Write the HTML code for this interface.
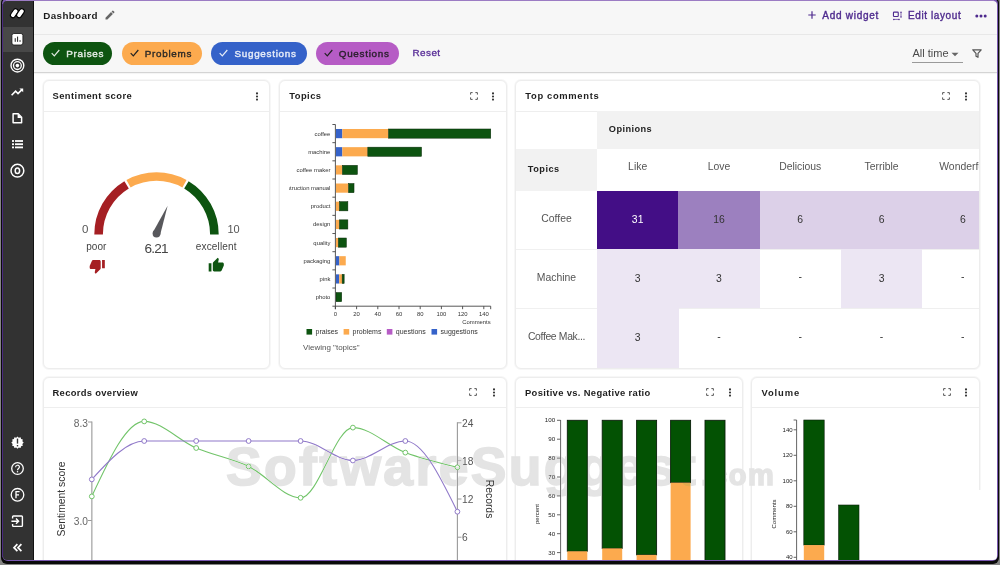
<!DOCTYPE html>
<html><head><meta charset="utf-8">
<style>
*{box-sizing:border-box;margin:0;padding:0}
html,body{width:1000px;height:565px;overflow:hidden;background:#858585;font-family:"Liberation Sans",sans-serif;color:#222}
.abs{position:absolute}
#blk{position:absolute;left:1px;top:-3px;width:998px;height:567px;background:#0a0a0a;border-radius:6px}
#pur{position:absolute;left:2px;top:-2px;width:996px;height:563px;background:#7a58b2;border-radius:6px}
#lpur{position:absolute;left:2px;top:4px;width:1px;height:553px;background:#4a2a80}
#app{position:absolute;left:0;top:0;width:1000px;height:565px;background:#fff;clip-path:inset(1px 3px 5px 3px round 4px)}
#topline{position:absolute;left:6px;top:0;width:988px;height:1px;background:#9c7cc4}
#side{position:absolute;left:3px;top:0;width:31px;height:565px;background:#323232;border-right:1px solid #111}
#side .act{position:absolute;left:0;top:27px;width:30px;height:25px;background:#484848}
.hdr{position:absolute;left:34px;top:0;width:963px;height:35px;border-bottom:1px solid #e8e8e8;background:#f7f7f7}
.fbar{position:absolute;left:34px;top:35px;width:963px;height:38px;border-bottom:1px solid #d4d4d4;background:#f7f7f7;box-shadow:0 1px 1px rgba(0,0,0,0.04)}
.chip{position:absolute;top:42px;height:23px;border-radius:12px;font-size:9.9px;font-weight:normal;-webkit-text-stroke:0.4px currentColor;line-height:23px;white-space:nowrap}
.chip span{position:absolute;top:-0.4px;letter-spacing:0.7px}
.hl{font-weight:normal;-webkit-text-stroke:0.35px currentColor;color:#4e2a8e;white-space:nowrap}
.w{position:absolute;background:#fff;border:1px solid #ededed;border-radius:6px;overflow:hidden;box-shadow:0 0 0 1px #f7f7f7}
.wh{position:absolute;left:0;top:0;right:0;height:30px;border-bottom:1px solid #eeeeee}
.wt{position:absolute;left:8px;top:9px;font-size:9.4px;font-weight:bold;color:#1e1e1e;white-space:nowrap}
.t{position:absolute;white-space:nowrap}
.tc{position:absolute;text-align:center;white-space:nowrap}
</style></head>
<body>
<div id="blk"></div><div id="pur"></div><div id="lpur"></div>
<div id="app">
<div id="side"><div class="act"></div></div>
<svg class="abs" style="left:0;top:0" width="33" height="565" viewBox="0 0 33 565"><rect x="9.40" y="10.7" width="9.8" height="5" rx="2.5" transform="rotate(-55 14.30 13.2)" fill="#fff" stroke="#000" stroke-width="1.1"/><rect x="15.60" y="10.7" width="9.8" height="5" rx="2.5" transform="rotate(-55 20.50 13.2)" fill="#fff" stroke="#000" stroke-width="1.1"/><rect x="11.9" y="33.5" width="11" height="11.5" rx="2" fill="#fff" stroke="#111" stroke-width="0.8"/><rect x="14.7" y="38.2" width="1.1" height="3.6" fill="#333"/><rect x="17" y="36.6" width="1.1" height="5.2" fill="#333"/><rect x="19.5" y="40.2" width="1.1" height="1.6" fill="#333"/><circle cx="17.4" cy="65.6" r="6.4" stroke="#fff" stroke-width="1.4" fill="none"/><circle cx="17.4" cy="65.6" r="3.9" stroke="#fff" stroke-width="1.3" fill="none"/><circle cx="17.4" cy="65.6" r="1.8" fill="#fff"/><path d="M11.6 95.2L15.6 91.2L18 93.6L22 89.6" stroke="#fff" stroke-width="1.6" fill="none"/><path d="M19.4 88.4H23.2V92.2z" fill="#fff"/><path d="M13.1 113.8H18.2L21.6 117.3V122.8H13.1Z" stroke="#fff" stroke-width="1.5" fill="none" stroke-linejoin="round"/><path d="M17.6 113.8V117.9H21.6Z" fill="#fff"/><rect x="12" y="140.1" width="2" height="1.8" fill="#fff"/><rect x="15" y="140.1" width="8" height="1.8" fill="#fff"/><rect x="12" y="143.3" width="2" height="1.8" fill="#fff"/><rect x="15" y="143.3" width="8" height="1.8" fill="#fff"/><rect x="12" y="146.5" width="2" height="1.8" fill="#fff"/><rect x="15" y="146.5" width="8" height="1.8" fill="#fff"/><circle cx="17.4" cy="170.7" r="6.4" stroke="#fff" stroke-width="1.5" fill="none"/><ellipse cx="17.4" cy="170.7" rx="2.2" ry="2.8" stroke="#fff" stroke-width="1.5" fill="none"/><polygon points="23.70,442.60 22.33,443.89 22.87,445.70 21.04,446.14 20.60,447.97 18.79,447.43 17.50,448.80 16.21,447.43 14.40,447.97 13.96,446.14 12.13,445.70 12.67,443.89 11.30,442.60 12.67,441.31 12.13,439.50 13.96,439.06 14.40,437.23 16.21,437.77 17.50,436.40 18.79,437.77 20.60,437.23 21.04,439.06 22.87,439.50 22.33,441.31" fill="#fff"/><rect x="16.8" y="438.6" width="1.4" height="5" fill="#333"/><rect x="16.8" y="445" width="1.4" height="1.4" fill="#333"/><circle cx="17.5" cy="468.5" r="5.8" stroke="#fff" stroke-width="1.3" fill="none"/><path d="M15.6 467.2C15.6 464.6 19.4 464.6 19.4 467C19.4 468.4 17.5 468.6 17.5 470.2" stroke="#fff" stroke-width="1.2" fill="none"/><circle cx="17.5" cy="471.8" r="0.75" fill="#fff"/><circle cx="17.5" cy="494.8" r="6.3" stroke="#fff" stroke-width="1.3" fill="none"/><path d="M16 498.2V491.6H19.6M16 494.8H19" stroke="#fff" stroke-width="1.3" fill="none"/><path d="M12.6 518.5V516.8Q12.6 516 13.4 516H21.6Q22.4 516 22.4 516.8V525.6Q22.4 526.4 21.6 526.4H13.4Q12.6 526.4 12.6 525.6V524" stroke="#fff" stroke-width="1.4" fill="none"/><path d="M11.4 521.2H18.4M16 518.6L18.6 521.2L16 523.8" stroke="#fff" stroke-width="1.4" fill="none"/><path d="M17.4 544.2L14 547.7L17.4 551.2M21.4 544.2L18 547.7L21.4 551.2" stroke="#fff" stroke-width="1.7" fill="none"/></svg>
<div class="hdr"></div>
<div class="t" style="left:43.3px;top:9.8px;font-size:9.8px;font-weight:bold;letter-spacing:0.37px;color:#1c1c1c">Dashboard</div>
<svg class="abs" style="left:103.5px;top:9.3px" width="12" height="12" viewBox="0 0 24 24"><path fill="#666" d="M3 17.25V21h3.75L17.81 9.94l-3.75-3.75L3 17.25zM20.71 7.04a1 1 0 0 0 0-1.41l-2.34-2.34a1 1 0 0 0-1.41 0l-1.83 1.83 3.75 3.75 1.83-1.83z"/></svg>
<svg class="abs" style="left:807.5px;top:11px" width="8" height="8" viewBox="0 0 8 8"><path d="M4 0.3v7.4M0.3 4h7.4" stroke="#4e2a8e" stroke-width="1.2" fill="none"/></svg>
<div class="t hl" style="left:822.3px;top:9.6px;font-size:10px;letter-spacing:0.72px">Add widget</div>
<svg class="abs" style="left:891.5px;top:9.5px" width="11" height="11" viewBox="0 0 11 11"><rect x="1.45" y="2.15" width="4.8" height="4.3" rx="0.7" stroke="#4e2a8e" stroke-width="1.1" fill="none"/><path d="M1.6 9.4H7.2M9 2.2V6.9" stroke="#4e2a8e" stroke-width="0.9" stroke-opacity="0.75" fill="none"/><circle cx="1.8" cy="9.4" r="0.75" fill="#4e2a8e"/><circle cx="7" cy="9.4" r="0.75" fill="#4e2a8e"/><circle cx="9" cy="2.2" r="0.75" fill="#4e2a8e"/><circle cx="9" cy="6.9" r="0.75" fill="#4e2a8e"/></svg>
<div class="t hl" style="left:908px;top:9.6px;font-size:10px;letter-spacing:0.6px">Edit layout</div>
<svg class="abs" style="left:975px;top:13.5px" width="12" height="4" viewBox="0 0 12 4"><circle cx="1.8" cy="2" r="1.5" fill="#4e2a8e"/><circle cx="6" cy="2" r="1.5" fill="#4e2a8e"/><circle cx="10.2" cy="2" r="1.5" fill="#4e2a8e"/></svg>
<div class="fbar"></div>
<div class="chip" style="left:43px;width:69px;background:#0d5410;color:#e3ebe3"><svg class="abs" style="left:8.3px;top:7px" width="9" height="8" viewBox="0 0 9 8"><path d="M0.7 4.2l2.6 2.6L8.3 1" stroke="#e3ebe3" stroke-width="1.2" fill="none"/></svg><span style="left:23.3px">Praises</span></div>
<div class="chip" style="left:122px;width:80px;background:#fcaa4e;color:#2e2a26"><svg class="abs" style="left:8.3px;top:7px" width="9" height="8" viewBox="0 0 9 8"><path d="M0.7 4.2l2.6 2.6L8.3 1" stroke="#222" stroke-width="1.2" fill="none"/></svg><span style="left:22.8px">Problems</span></div>
<div class="chip" style="left:210.5px;width:96px;background:#3562c9;color:#e6ecf8"><svg class="abs" style="left:8.3px;top:7px" width="9" height="8" viewBox="0 0 9 8"><path d="M0.7 4.2l2.6 2.6L8.3 1" stroke="#e6ecf8" stroke-width="1.2" fill="none"/></svg><span style="left:24px">Suggestions</span></div>
<div class="chip" style="left:315.5px;width:83px;background:#b65cc5;color:#2a1f2c"><svg class="abs" style="left:8.3px;top:7px" width="9" height="8" viewBox="0 0 9 8"><path d="M0.7 4.2l2.6 2.6L8.3 1" stroke="#222" stroke-width="1.2" fill="none"/></svg><span style="left:23.3px">Questions</span></div>
<div class="t hl" style="left:412.5px;top:47.1px;font-size:9.9px;letter-spacing:0.45px;color:#5a2f98">Reset</div>
<div class="t" style="left:912.5px;top:46.5px;font-size:11px;color:#4a4a4a">All time</div>
<svg class="abs" style="left:951px;top:51.5px" width="8" height="5" viewBox="0 0 8 5"><path d="M0.5 0.8h7L4 4.3z" fill="#666"/></svg>
<div class="abs" style="left:912px;top:62px;width:51px;height:1px;background:#9a9a9a"></div>
<svg class="abs" style="left:972px;top:49px" width="10" height="9" viewBox="0 0 10 9"><path d="M0.8 0.8h8.4L6 4.3V8.3L4 7.3V4.3z" stroke="#555" stroke-width="1.2" fill="none" stroke-linejoin="round"/></svg>
<div class="w" style="left:43px;top:80px;width:227px;height:289px"><div class="wh" style="height:31px"></div><div class="wt" style="top:9.3px;left:8.5px;letter-spacing:0.45px">Sentiment score</div></div>
<div class="w" style="left:279px;top:80px;width:228px;height:289px"><div class="wh" style="height:31px"></div><div class="wt" style="top:9.3px;left:9.3px;letter-spacing:0.44px">Topics</div></div>
<div class="w" style="left:515px;top:80px;width:465px;height:289px"><div class="wh" style="height:31px"></div><div class="wt" style="top:9.3px;left:9.3px;letter-spacing:0.67px">Top comments</div></div>
<div class="w" style="left:43px;top:377px;width:464px;height:200px"><div class="wh" style="height:30px"></div><div class="wt" style="top:8.6px;left:8.5px;letter-spacing:0.33px">Records overview</div></div>
<div class="w" style="left:515px;top:377px;width:228px;height:200px"><div class="wh" style="height:30px"></div><div class="wt" style="top:8.6px;left:9.0px;letter-spacing:0.35px">Positive vs. Negative ratio</div></div>
<div class="w" style="left:751px;top:377px;width:229px;height:200px"><div class="wh" style="height:30px"></div><div class="wt" style="top:8.6px;left:9.5px;letter-spacing:0.90px">Volume</div></div>
<svg class="abs" style="left:255.2px;top:90.6px" width="4" height="11" viewBox="0 0 4 11"><circle cx="2" cy="2.4" r="1.05" fill="#333"/><circle cx="2" cy="5.5" r="1.05" fill="#333"/><circle cx="2" cy="8.6" r="1.05" fill="#333"/></svg><svg class="abs" style="left:469.5px;top:91.9px" width="8" height="8" viewBox="0 0 8 8"><path d="M0.6 2.6V0.6H2.6M5.4 0.6H7.4V2.6M7.4 5.4V7.4H5.4M2.6 7.4H0.6V5.4" stroke="#555" stroke-width="1" fill="none"/></svg><svg class="abs" style="left:491.4px;top:90.6px" width="4" height="11" viewBox="0 0 4 11"><circle cx="2" cy="2.4" r="1.05" fill="#333"/><circle cx="2" cy="5.5" r="1.05" fill="#333"/><circle cx="2" cy="8.6" r="1.05" fill="#333"/></svg><svg class="abs" style="left:942.0px;top:91.9px" width="8" height="8" viewBox="0 0 8 8"><path d="M0.6 2.6V0.6H2.6M5.4 0.6H7.4V2.6M7.4 5.4V7.4H5.4M2.6 7.4H0.6V5.4" stroke="#555" stroke-width="1" fill="none"/></svg><svg class="abs" style="left:963.6px;top:90.6px" width="4" height="11" viewBox="0 0 4 11"><circle cx="2" cy="2.4" r="1.05" fill="#333"/><circle cx="2" cy="5.5" r="1.05" fill="#333"/><circle cx="2" cy="8.6" r="1.05" fill="#333"/></svg><svg class="abs" style="left:469.3px;top:388.4px" width="8" height="8" viewBox="0 0 8 8"><path d="M0.6 2.6V0.6H2.6M5.4 0.6H7.4V2.6M7.4 5.4V7.4H5.4M2.6 7.4H0.6V5.4" stroke="#555" stroke-width="1" fill="none"/></svg><svg class="abs" style="left:491.6px;top:387.1px" width="4" height="11" viewBox="0 0 4 11"><circle cx="2" cy="2.4" r="1.05" fill="#333"/><circle cx="2" cy="5.5" r="1.05" fill="#333"/><circle cx="2" cy="8.6" r="1.05" fill="#333"/></svg><svg class="abs" style="left:705.8px;top:388.4px" width="8" height="8" viewBox="0 0 8 8"><path d="M0.6 2.6V0.6H2.6M5.4 0.6H7.4V2.6M7.4 5.4V7.4H5.4M2.6 7.4H0.6V5.4" stroke="#555" stroke-width="1" fill="none"/></svg><svg class="abs" style="left:727.8px;top:387.1px" width="4" height="11" viewBox="0 0 4 11"><circle cx="2" cy="2.4" r="1.05" fill="#333"/><circle cx="2" cy="5.5" r="1.05" fill="#333"/><circle cx="2" cy="8.6" r="1.05" fill="#333"/></svg><svg class="abs" style="left:942.5px;top:388.4px" width="8" height="8" viewBox="0 0 8 8"><path d="M0.6 2.6V0.6H2.6M5.4 0.6H7.4V2.6M7.4 5.4V7.4H5.4M2.6 7.4H0.6V5.4" stroke="#555" stroke-width="1" fill="none"/></svg><svg class="abs" style="left:964.0px;top:387.1px" width="4" height="11" viewBox="0 0 4 11"><circle cx="2" cy="2.4" r="1.05" fill="#333"/><circle cx="2" cy="5.5" r="1.05" fill="#333"/><circle cx="2" cy="8.6" r="1.05" fill="#333"/></svg><svg class="abs" style="left:0;top:0" width="1000" height="565" viewBox="0 0 1000 565"><path d="M98.60 234.40A57.90 57.90 0 0 1 126.59 184.82" stroke="#a51f23" stroke-width="8.6" fill="none"/><path d="M128.52 183.71A57.90 57.90 0 0 1 184.48 183.71" stroke="#fcaa4e" stroke-width="8.6" fill="none"/><path d="M186.41 184.82A57.90 57.90 0 0 1 214.40 234.40" stroke="#0d5410" stroke-width="8.6" fill="none"/><circle cx="156.50" cy="233.60" r="3.90" fill="#58585c"/><path d="M152.88 232.15L167.63 205.74L160.12 235.05z" fill="#58585c"/></svg>
<div class="t" style="left:82px;top:222.5px;font-size:11.5px;color:#555">0</div>
<div class="t" style="left:227.5px;top:223px;font-size:11px;color:#555">10</div>
<div class="t" style="left:86.3px;top:241px;font-size:10px;color:#444">poor</div>
<div class="t" style="left:144.5px;top:241px;font-size:13.6px;letter-spacing:-0.8px;color:#444">6.21</div>
<div class="t" style="left:195.8px;top:240.8px;font-size:10px;letter-spacing:0.15px;color:#444">excellent</div>
<svg class="abs" style="left:88.5px;top:258px" width="16.5" height="16.5" viewBox="0 0 24 24"><path fill="#a51f23" d="M15 3H6c-.83 0-1.54.5-1.84 1.22l-3.02 7.05c-.09.23-.14.47-.14.73v2c0 1.1.9 2 2 2h6.31l-.95 4.57-.03.32c0 .41.17.79.44 1.06L9.830 23l6.59-6.59c.36-.36.58-.86.58-1.41V5c0-1.1-.9-2-2-2zm4 0v12h4V3h-4z"/></svg>
<svg class="abs" style="left:207.5px;top:257px" width="16.5" height="16.5" viewBox="0 0 24 24"><path fill="#0d5410" d="M1 21h4V9H1v12zm22-11c0-1.1-.9-2-2-2h-6.31l.95-4.57.03-.32c0-.41-.17-.79-.44-1.06L14.17 1 7.59 7.59C7.22 7.95 7 8.45 7 9v10c0 1.1.9 2 2 2h9c.83 0 1.54-.5 1.84-1.22l3.02-7.05c.09-.23.14-.47.14-.73v-2z"/></svg>
<svg class="abs" style="left:289px;top:0" width="215" height="565" viewBox="289 0 215 565" font-family="Liberation Sans"><rect x="336.00" y="128.99" width="6.36" height="9.2"  fill="#3562c9"/><rect x="342.36" y="128.99" width="46.11" height="9.2"  fill="#fcaa4e"/><rect x="388.47" y="128.99" width="102.29" height="9.2"  fill="#0d5410" stroke="#0a2a0a" stroke-width="0.5"/><text x="330.4" y="135.59" font-size="5.9" fill="#333" text-anchor="end">coffee</text><rect x="336.00" y="147.16" width="6.36" height="9.2"  fill="#3562c9"/><rect x="342.36" y="147.16" width="25.44" height="9.2"  fill="#fcaa4e"/><rect x="367.80" y="147.16" width="53.74" height="9.2"  fill="#0d5410" stroke="#0a2a0a" stroke-width="0.5"/><text x="330.4" y="153.75" font-size="5.9" fill="#333" text-anchor="end">machine</text><rect x="336.00" y="165.33" width="6.36" height="9.2"  fill="#fcaa4e"/><rect x="342.36" y="165.33" width="15.05" height="9.2"  fill="#0d5410" stroke="#0a2a0a" stroke-width="0.5"/><text x="330.4" y="171.93" font-size="5.9" fill="#333" text-anchor="end">coffee maker</text><rect x="336.00" y="183.50" width="12.51" height="9.2"  fill="#fcaa4e"/><rect x="348.51" y="183.50" width="5.51" height="9.2"  fill="#0d5410" stroke="#0a2a0a" stroke-width="0.5"/><text x="330.4" y="190.09" font-size="5.9" fill="#333" text-anchor="end">instruction manual</text><rect x="336.00" y="201.66" width="3.39" height="9.2"  fill="#fcaa4e"/><rect x="339.39" y="201.66" width="8.48" height="9.2"  fill="#0d5410" stroke="#0a2a0a" stroke-width="0.5"/><text x="330.4" y="208.26" font-size="5.9" fill="#333" text-anchor="end">product</text><rect x="336.00" y="219.84" width="3.39" height="9.2"  fill="#fcaa4e"/><rect x="339.39" y="219.84" width="8.48" height="9.2"  fill="#0d5410" stroke="#0a2a0a" stroke-width="0.5"/><text x="330.4" y="226.44" font-size="5.9" fill="#333" text-anchor="end">design</text><rect x="336.00" y="238.00" width="2.33" height="9.2"  fill="#fcaa4e"/><rect x="338.33" y="238.00" width="8.06" height="9.2"  fill="#0d5410" stroke="#0a2a0a" stroke-width="0.5"/><text x="330.4" y="244.60" font-size="5.9" fill="#333" text-anchor="end">quality</text><rect x="336.00" y="256.17" width="3.39" height="9.2"  fill="#3562c9"/><rect x="339.39" y="256.17" width="6.36" height="9.2"  fill="#fcaa4e"/><text x="330.4" y="262.77" font-size="5.9" fill="#333" text-anchor="end">packaging</text><rect x="336.00" y="274.34" width="3.18" height="9.2"  fill="#3562c9"/><rect x="339.18" y="274.34" width="2.97" height="9.2"  fill="#fcaa4e"/><rect x="342.15" y="274.34" width="2.01" height="9.2"  fill="#0d5410" stroke="#0a2a0a" stroke-width="0.5"/><text x="330.4" y="280.94" font-size="5.9" fill="#333" text-anchor="end">pink</text><rect x="336.00" y="292.51" width="5.72" height="9.2"  fill="#0d5410" stroke="#0a2a0a" stroke-width="0.5"/><text x="330.4" y="299.12" font-size="5.9" fill="#333" text-anchor="end">photo</text><path d="M332.4 124.50H335.40V306.20H332.4" stroke="#444" stroke-width="0.9" fill="none"/><path d="M332.4 142.67H335.40" stroke="#444" stroke-width="0.9"/><path d="M332.4 160.84H335.40" stroke="#444" stroke-width="0.9"/><path d="M332.4 179.01H335.40" stroke="#444" stroke-width="0.9"/><path d="M332.4 197.18H335.40" stroke="#444" stroke-width="0.9"/><path d="M332.4 215.35H335.40" stroke="#444" stroke-width="0.9"/><path d="M332.4 233.52H335.40" stroke="#444" stroke-width="0.9"/><path d="M332.4 251.69H335.40" stroke="#444" stroke-width="0.9"/><path d="M332.4 269.86H335.40" stroke="#444" stroke-width="0.9"/><path d="M332.4 288.03H335.40" stroke="#444" stroke-width="0.9"/><path d="M335.40 309.20V306.20H490.69V309.20" stroke="#444" stroke-width="0.9" fill="none"/><path d="M335.40 306.20V309.20" stroke="#444" stroke-width="0.9"/><text x="335.40" y="316.20" font-size="5.9" fill="#333" text-anchor="middle">0</text><path d="M356.60 306.20V309.20" stroke="#444" stroke-width="0.9"/><text x="356.60" y="316.20" font-size="5.9" fill="#333" text-anchor="middle">20</text><path d="M377.80 306.20V309.20" stroke="#444" stroke-width="0.9"/><text x="377.80" y="316.20" font-size="5.9" fill="#333" text-anchor="middle">40</text><path d="M399.00 306.20V309.20" stroke="#444" stroke-width="0.9"/><text x="399.00" y="316.20" font-size="5.9" fill="#333" text-anchor="middle">60</text><path d="M420.20 306.20V309.20" stroke="#444" stroke-width="0.9"/><text x="420.20" y="316.20" font-size="5.9" fill="#333" text-anchor="middle">80</text><path d="M441.40 306.20V309.20" stroke="#444" stroke-width="0.9"/><text x="441.40" y="316.20" font-size="5.9" fill="#333" text-anchor="middle">100</text><path d="M462.60 306.20V309.20" stroke="#444" stroke-width="0.9"/><text x="462.60" y="316.20" font-size="5.9" fill="#333" text-anchor="middle">120</text><path d="M483.80 306.20V309.20" stroke="#444" stroke-width="0.9"/><text x="483.80" y="316.20" font-size="5.9" fill="#333" text-anchor="middle">140</text><text x="490.7" y="324" font-size="5.9" fill="#333" text-anchor="end">Comments</text><rect x="306.5" y="329" width="5.6" height="5.6" fill="#0d5410"/><text x="315.5" y="334.4" font-size="7" fill="#333">praises</text><rect x="343.6" y="329" width="5.6" height="5.6" fill="#fcaa4e"/><text x="352.6" y="334.4" font-size="7" fill="#333">problems</text><rect x="386.8" y="329" width="5.6" height="5.6" fill="#b65cc5"/><text x="395.8" y="334.4" font-size="7" fill="#333">questions</text><rect x="431.5" y="329" width="5.6" height="5.6" fill="#3562c9"/><text x="440.5" y="334.4" font-size="7" fill="#333">suggestions</text></svg>
<div class="t" style="left:303px;top:342.5px;font-size:8px;color:#555">Viewing "topics"</div>
<div class="abs" style="left:0;top:0;width:979px;height:368px;clip-path:inset(111px 0 0 516px)"><div class="abs" style="left:597px;top:111px;width:382px;height:38px;background:#f2f2f2"></div>
<div class="abs" style="left:516px;top:149px;width:81px;height:41.5px;background:#f2f2f2"></div>
<div class="t" style="left:608.8px;top:124.3px;font-size:9.2px;font-weight:bold;letter-spacing:0.44px;color:#222">Opinions</div>
<div class="t" style="left:527.8px;top:163.8px;font-size:9.2px;font-weight:bold;letter-spacing:0.5px;color:#222">Topics</div>
<div class="tc" style="left:597.0px;top:161px;width:81.3px;font-size:10.4px;color:#555">Like</div>
<div class="tc" style="left:678.3px;top:161px;width:81.3px;font-size:10.4px;color:#555">Love</div>
<div class="tc" style="left:759.6px;top:161px;width:81.3px;font-size:10.4px;color:#555">Delicious</div>
<div class="tc" style="left:840.9px;top:161px;width:81.3px;font-size:10.4px;color:#555">Terrible</div>
<div class="tc" style="left:922.2px;top:161px;width:81.3px;font-size:10.4px;color:#555">Wonderful</div>
<div class="abs" style="left:516px;top:249px;width:463px;height:1px;background:#efefef"></div>
<div class="abs" style="left:516px;top:308px;width:463px;height:1px;background:#efefef"></div>
<div class="abs" style="left:597.0px;top:190.5px;width:81.6px;height:58.5px;background:#430e86"></div>
<div class="tc" style="left:597.0px;top:213.9px;width:81.3px;font-size:10.4px;color:#fff">31</div>
<div class="abs" style="left:678.3px;top:190.5px;width:81.6px;height:58.5px;background:#9c80bf"></div>
<div class="tc" style="left:678.3px;top:213.9px;width:81.3px;font-size:10.4px;color:#333">16</div>
<div class="abs" style="left:759.6px;top:190.5px;width:81.6px;height:58.5px;background:#dcd0e8"></div>
<div class="tc" style="left:759.6px;top:213.9px;width:81.3px;font-size:10.4px;color:#333">6</div>
<div class="abs" style="left:840.9px;top:190.5px;width:81.6px;height:58.5px;background:#dcd0e8"></div>
<div class="tc" style="left:840.9px;top:213.9px;width:81.3px;font-size:10.4px;color:#333">6</div>
<div class="abs" style="left:922.2px;top:190.5px;width:81.6px;height:58.5px;background:#dcd0e8"></div>
<div class="tc" style="left:922.2px;top:213.9px;width:81.3px;font-size:10.4px;color:#333">6</div>
<div class="abs" style="left:516px;top:248.5px;width:81px;height:1px;background:#f0f0f0"></div>
<div class="abs" style="left:597.0px;top:249.0px;width:81.6px;height:59.3px;background:#ece6f3"></div>
<div class="tc" style="left:597.0px;top:272.8px;width:81.3px;font-size:10.4px;color:#333">3</div>
<div class="abs" style="left:678.3px;top:249.0px;width:81.6px;height:59.3px;background:#ece6f3"></div>
<div class="tc" style="left:678.3px;top:272.8px;width:81.3px;font-size:10.4px;color:#333">3</div>
<div class="tc" style="left:759.6px;top:271.0px;width:81.3px;font-size:10.4px;color:#333">-</div>
<div class="abs" style="left:840.9px;top:249.0px;width:81.6px;height:59.3px;background:#ece6f3"></div>
<div class="tc" style="left:840.9px;top:272.8px;width:81.3px;font-size:10.4px;color:#333">3</div>
<div class="tc" style="left:922.2px;top:271.0px;width:81.3px;font-size:10.4px;color:#333">-</div>
<div class="abs" style="left:516px;top:307.8px;width:81px;height:1px;background:#f0f0f0"></div>
<div class="abs" style="left:597.0px;top:308.3px;width:81.6px;height:59.7px;background:#ece6f3"></div>
<div class="tc" style="left:597.0px;top:332.3px;width:81.3px;font-size:10.4px;color:#333">3</div>
<div class="tc" style="left:678.3px;top:330.5px;width:81.3px;font-size:10.4px;color:#333">-</div>
<div class="tc" style="left:759.6px;top:330.5px;width:81.3px;font-size:10.4px;color:#333">-</div>
<div class="tc" style="left:840.9px;top:330.5px;width:81.3px;font-size:10.4px;color:#333">-</div>
<div class="tc" style="left:922.2px;top:330.5px;width:81.3px;font-size:10.4px;color:#333">-</div>
<div class="abs" style="left:516px;top:367.5px;width:81px;height:1px;background:#f0f0f0"></div>
<div class="tc" style="left:516px;top:212.8px;width:81px;font-size:10.4px;letter-spacing:0.00px;color:#555">Coffee</div>
<div class="tc" style="left:516px;top:271.6px;width:81px;font-size:10.4px;letter-spacing:0.00px;color:#555">Machine</div>
<div class="tc" style="left:516px;top:331.1px;width:81px;font-size:10.4px;letter-spacing:-0.35px;color:#555">Coffee Mak...</div>
</div>
<svg class="abs" style="left:0;top:0" width="1000" height="565" viewBox="0 0 1000 565" font-family="Liberation Sans"><path d="M91.8 421.5V565" stroke="#b8b8b8" stroke-width="1.6" fill="none"/><path d="M457.4 422.3V565" stroke="#999" stroke-width="1.1" fill="none"/><path d="M88 422H91.8M88 520.5H91.8" stroke="#9a9a9a" stroke-width="1"/><path d="M457.4 422.8H461.5" stroke="#9a9a9a" stroke-width="1"/><path d="M457.4 460.8H461.5" stroke="#9a9a9a" stroke-width="1"/><path d="M457.4 499.0H461.5" stroke="#9a9a9a" stroke-width="1"/><path d="M457.4 537.2H461.5" stroke="#9a9a9a" stroke-width="1"/><path d="M91.80 496.40C109.27 458.90 126.73 421.40 144.20 421.40C161.53 421.40 178.87 440.52 196.20 448.00C213.67 455.54 231.13 458.05 248.60 466.40C265.93 474.68 283.27 497.80 300.60 497.80C318.03 497.80 335.47 427.60 352.90 427.60C370.37 427.60 387.83 445.97 405.30 452.60C422.67 459.19 440.03 463.24 457.40 467.30" stroke="#72c46a" stroke-width="1.1" fill="none"/><path d="M91.80 479.40C109.27 460.20 126.73 441.00 144.20 441.00C161.53 441.00 178.87 441.00 196.20 441.00C213.67 441.00 231.13 441.00 248.60 441.00C265.93 441.00 283.27 441.00 300.60 441.00C318.03 441.00 335.47 460.50 352.90 460.50C370.37 460.50 387.83 441.00 405.30 441.00C422.67 441.00 440.03 476.35 457.40 511.70" stroke="#9079c9" stroke-width="1.1" fill="none"/><circle cx="91.8" cy="496.4" r="2.4" fill="#fff" stroke="#72c46a" stroke-width="1"/><circle cx="144.2" cy="421.4" r="2.4" fill="#fff" stroke="#72c46a" stroke-width="1"/><circle cx="196.2" cy="448.0" r="2.4" fill="#fff" stroke="#72c46a" stroke-width="1"/><circle cx="248.6" cy="466.4" r="2.4" fill="#fff" stroke="#72c46a" stroke-width="1"/><circle cx="300.6" cy="497.8" r="2.4" fill="#fff" stroke="#72c46a" stroke-width="1"/><circle cx="352.9" cy="427.6" r="2.4" fill="#fff" stroke="#72c46a" stroke-width="1"/><circle cx="405.3" cy="452.6" r="2.4" fill="#fff" stroke="#72c46a" stroke-width="1"/><circle cx="457.4" cy="467.3" r="2.4" fill="#fff" stroke="#72c46a" stroke-width="1"/><circle cx="91.8" cy="479.4" r="2.4" fill="#fff" stroke="#9079c9" stroke-width="1"/><circle cx="144.2" cy="441.0" r="2.4" fill="#fff" stroke="#9079c9" stroke-width="1"/><circle cx="196.2" cy="441.0" r="2.4" fill="#fff" stroke="#9079c9" stroke-width="1"/><circle cx="248.6" cy="441.0" r="2.4" fill="#fff" stroke="#9079c9" stroke-width="1"/><circle cx="300.6" cy="441.0" r="2.4" fill="#fff" stroke="#9079c9" stroke-width="1"/><circle cx="352.9" cy="460.5" r="2.4" fill="#fff" stroke="#9079c9" stroke-width="1"/><circle cx="405.3" cy="441.0" r="2.4" fill="#fff" stroke="#9079c9" stroke-width="1"/><circle cx="457.4" cy="511.7" r="2.4" fill="#fff" stroke="#9079c9" stroke-width="1"/></svg>
<div class="t" style="left:73.8px;top:417.6px;font-size:10.2px;color:#666">8.3</div>
<div class="t" style="left:73.8px;top:516.1px;font-size:10.2px;color:#666">3.0</div>
<div class="t" style="left:462px;top:417.9px;font-size:10.2px;color:#555">24</div>
<div class="t" style="left:462px;top:455.9px;font-size:10.2px;color:#555">18</div>
<div class="t" style="left:462px;top:494.1px;font-size:10.2px;color:#555">12</div>
<div class="t" style="left:462px;top:532.3px;font-size:10.2px;color:#555">6</div>
<div class="t" style="left:60.7px;top:499px;font-size:10.4px;color:#333;transform:translate(-50%,-50%) rotate(-90deg)">Sentiment score</div>
<div class="t" style="left:488.5px;top:499px;font-size:10.4px;color:#333;transform:translate(-50%,-50%) rotate(90deg)">Records</div>
<svg class="abs" style="left:0;top:0" width="1000" height="565" viewBox="0 0 1000 565" font-family="Liberation Sans"><rect x="567.3" y="420.3" width="20" height="131.0" fill="#035203" stroke="#0a1f0a" stroke-width="0.9"/><rect x="567.3" y="551.3" width="20" height="48.7" fill="#fcaa4e"/><rect x="602.2" y="420.3" width="20" height="128.1" fill="#035203" stroke="#0a1f0a" stroke-width="0.9"/><rect x="602.2" y="548.4" width="20" height="51.6" fill="#fcaa4e"/><rect x="636.6" y="420.3" width="20" height="134.6" fill="#035203" stroke="#0a1f0a" stroke-width="0.9"/><rect x="636.6" y="554.9" width="20" height="45.1" fill="#fcaa4e"/><rect x="670.6" y="420.3" width="20" height="62.4" fill="#035203" stroke="#0a1f0a" stroke-width="0.9"/><rect x="670.6" y="482.7" width="20" height="117.3" fill="#fcaa4e"/><rect x="705.0" y="420.3" width="20" height="189.0" fill="#035203" stroke="#0a1f0a" stroke-width="0.9"/><path d="M560.6 420V565" stroke="#555" stroke-width="0.9"/><path d="M557.0 420.3H560.6" stroke="#555" stroke-width="0.9"/><text x="555.2" y="422.4" font-size="6.2" fill="#222" text-anchor="end">100</text><path d="M557.0 439.2H560.6" stroke="#555" stroke-width="0.9"/><text x="555.2" y="441.3" font-size="6.2" fill="#222" text-anchor="end">90</text><path d="M557.0 458.1H560.6" stroke="#555" stroke-width="0.9"/><text x="555.2" y="460.2" font-size="6.2" fill="#222" text-anchor="end">80</text><path d="M557.0 477.0H560.6" stroke="#555" stroke-width="0.9"/><text x="555.2" y="479.1" font-size="6.2" fill="#222" text-anchor="end">70</text><path d="M557.0 495.9H560.6" stroke="#555" stroke-width="0.9"/><text x="555.2" y="498.0" font-size="6.2" fill="#222" text-anchor="end">60</text><path d="M557.0 514.8H560.6" stroke="#555" stroke-width="0.9"/><text x="555.2" y="516.9" font-size="6.2" fill="#222" text-anchor="end">50</text><path d="M557.0 533.7H560.6" stroke="#555" stroke-width="0.9"/><text x="555.2" y="535.8" font-size="6.2" fill="#222" text-anchor="end">40</text><path d="M557.0 552.6H560.6" stroke="#555" stroke-width="0.9"/><text x="555.2" y="554.7" font-size="6.2" fill="#222" text-anchor="end">30</text><text transform="translate(539 514) rotate(-90)" font-size="6" fill="#222" text-anchor="middle">percent</text></svg>
<svg class="abs" style="left:0;top:0" width="1000" height="565" viewBox="0 0 1000 565" font-family="Liberation Sans"><rect x="803.8" y="420.0" width="20.4" height="125.1" fill="#035203" stroke="#0a1f0a" stroke-width="0.6"/><rect x="803.8" y="545.1" width="20.4" height="40" fill="#fcaa4e"/><rect x="838.6" y="505.0" width="20.4" height="80" fill="#035203" stroke="#0a1f0a" stroke-width="0.6"/><path d="M793.6 420H796.6V565" stroke="#555" stroke-width="0.9" fill="none"/><path d="M793.6 429.8H796.6" stroke="#555" stroke-width="0.9"/><text x="792.6" y="431.9" font-size="6" fill="#222" text-anchor="end">140</text><path d="M793.6 455.3H796.6" stroke="#555" stroke-width="0.9"/><text x="792.6" y="457.4" font-size="6" fill="#222" text-anchor="end">120</text><path d="M793.6 480.8H796.6" stroke="#555" stroke-width="0.9"/><text x="792.6" y="482.9" font-size="6" fill="#222" text-anchor="end">100</text><path d="M793.6 506.3H796.6" stroke="#555" stroke-width="0.9"/><text x="792.6" y="508.4" font-size="6" fill="#222" text-anchor="end">80</text><path d="M793.6 531.8H796.6" stroke="#555" stroke-width="0.9"/><text x="792.6" y="533.9" font-size="6" fill="#222" text-anchor="end">60</text><path d="M793.6 557.3H796.6" stroke="#555" stroke-width="0.9"/><text x="792.6" y="559.4" font-size="6" fill="#222" text-anchor="end">40</text><text transform="translate(775.5 514) rotate(-90)" font-size="6" fill="#222" text-anchor="middle">Comments</text></svg>
<div class="t" style="left:226px;top:435.6px;font-size:53.5px;font-weight:bold;color:#e4e4e4;-webkit-text-stroke:1.6px #e4e4e4;mix-blend-mode:darken;letter-spacing:2.35px;pointer-events:none">SoftwareSuggest<span style="font-size:29px;letter-spacing:1.6px;margin-left:3px">.com</span></div>
<div class="abs" style="left:978px;top:490px;width:20px;height:75px;background:#fff"></div>
</div>
<div id="topline"></div>
</body></html>
